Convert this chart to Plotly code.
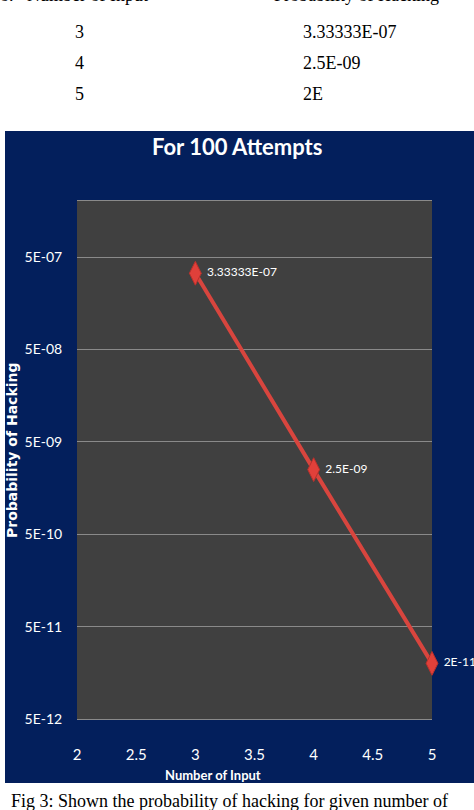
import plotly.graph_objects as go

# data
inputs = [3, 4, 5]
probs = [3.33333e-07, 2.5e-09, 2e-11]
prob_labels = ["3.33333E-07", "2.5E-09", "2E-11"]

x_ticks = [2, 2.5, 3, 3.5, 4, 4.5, 5]
y_ticks = [5e-12, 5e-11, 5e-10, 5e-09, 5e-08, 5e-07]
y_tick_text = ["5E-12", "5E-11", "5E-10", "5E-09", "5E-08", "5E-07"]

# the table rows above the chart
table_inputs = ["3", "4", "5"]
table_probs = ["3.33333E-07", "2.5E-09", "2E"]

W, H = 474, 810
L, R, T, B = 77, 42, 201, 91
PW, PH = W - L - R, H - T - B


def px_x(px):
    return (px - L) / PW


def px_y(py):
    return (H - B - py) / PH


sans = "Lato, Liberation Sans, sans-serif"
serif = "Liberation Serif, Times New Roman, serif"


def note(text, x, y, size, color="white", family=sans, xanchor="center", angle=0):
    fig.add_annotation(text=text, xref="paper", yref="paper",
                       x=px_x(x), y=px_y(y), xanchor=xanchor, yanchor="middle",
                       showarrow=False, textangle=angle,
                       font=dict(color=color, size=size, family=family))


fig = go.Figure()
fig.add_trace(go.Scatter(
    x=inputs, y=probs,
    mode="lines+markers+text",
    line=dict(color="#d8453e", width=4),
    marker=dict(symbol="diamond-tall", size=17, color="#e0403a",
                line=dict(color="#b8302b", width=1)),
    text=prob_labels,
    textposition="middle right",
    textfont=dict(color="white", size=12, family=sans),
    cliponaxis=False,
    showlegend=False,
))

# blue chart panel, then the grey plot area on top of it
fig.add_shape(type="rect", xref="paper", yref="paper", layer="below",
              x0=px_x(5), x1=px_x(490), y0=px_y(783), y1=px_y(131),
              fillcolor="#031f5c", line=dict(width=0))
fig.add_shape(type="rect", xref="paper", yref="paper", layer="below",
              x0=0, x1=1, y0=0, y1=1,
              fillcolor="#404040", line=dict(width=0))

note("<b>For 100 Attempts</b>", 237, 146, 22)
note("<b>Number of Input</b>", 213, 775, 13)
note("<b>Probability of Hacking</b>", 12, 450, 14,
     family="DejaVu Sans, sans-serif", angle=-90)

# table text above the chart (header is cut off at the top edge)
note("No.   Number of Input", 150, -5, 18, color="black", family=serif, xanchor="right")
note("Probability of Hacking", 272, -5, 18, color="black", family=serif, xanchor="left")
row_y = [32, 63, 94]
for i in range(len(table_inputs)):
    note(table_inputs[i], 79, row_y[i], 18, color="black", family=serif)
    note(table_probs[i], 301, row_y[i], 18, color="black", family=serif, xanchor="left")

note("Fig 3: Shown the probability of hacking for given number of", 9, 801, 18,
     color="black", family=serif, xanchor="left")

fig.update_xaxes(range=[2, 5], tickvals=x_ticks, ticktext=[str(v) for v in x_ticks],
                 showgrid=False, zeroline=False,
                 showline=True, mirror=True, linecolor="#8a8a8a", linewidth=1,
                 ticks="outside", ticklen=0, ticklabelstandoff=22,
                 tickfont=dict(color="white", size=15, family=sans))
fig.update_yaxes(type="log", range=[-11.301, -5.695], tickvals=y_ticks, ticktext=y_tick_text,
                 showgrid=True, gridcolor="#8a8a8a", gridwidth=1,
                 zeroline=False, showline=False,
                 ticks="outside", ticklen=0, ticklabelstandoff=11,
                 tickfont=dict(color="white", size=14, family=sans))

fig.update_layout(
    width=W, height=H,
    margin=dict(l=L, r=R, t=T, b=B, autoexpand=False),
    paper_bgcolor="white",
    plot_bgcolor="#404040",
)

fig.write_html("out.html", config={"displayModeBar": False},
               post_script="document.body.style.margin = '0';"
                           "document.documentElement.style.overflow = 'hidden';"
                           "document.body.style.overflow = 'hidden';")
